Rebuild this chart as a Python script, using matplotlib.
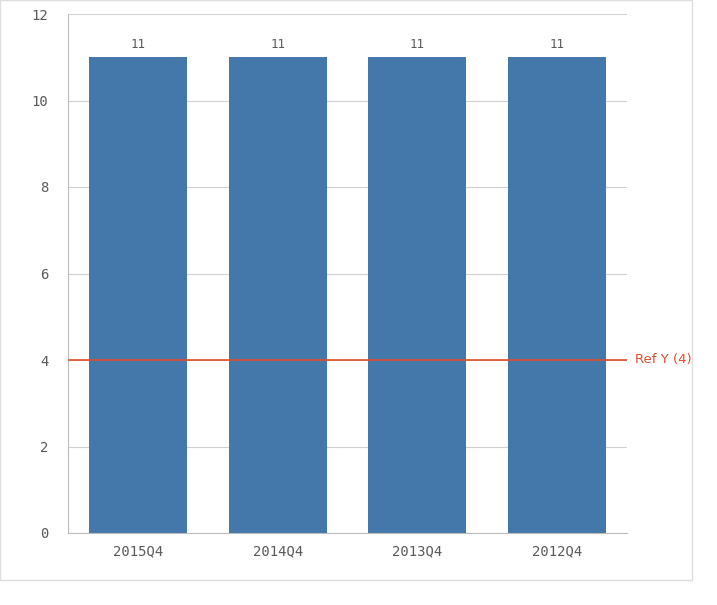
import matplotlib
matplotlib.use("Agg")
import matplotlib.pyplot as plt
from matplotlib.patches import Rectangle

categories = ["2015Q4", "2014Q4", "2013Q4", "2012Q4"]
values = [11, 11, 11, 11]
ref_value = 4
ref_label = "Ref Y (4)"
yticks = [0, 2, 4, 6, 8, 10, 12]

W, H = 717, 605
fig = plt.figure(figsize=(W/100, H/100), dpi=100)
fig.patch.set_facecolor("white")
fig.add_artist(Rectangle((0, 1-580/H), 692/W, 580/H, transform=fig.transFigure,
                         fill=False, edgecolor="#dddddd", lw=1))
ax = fig.add_axes([68/W, 1-533/H, (627-68)/W, (533-14)/H])
x = range(len(categories))
ax.bar(x, values, width=0.7, color="#4477aa", zorder=2)
for xi, v in zip(x, values):
    ax.text(xi, v + 0.15, f"{v}", ha="center", va="bottom", fontsize=9,
            color="#595959", family="DejaVu Sans Mono")
ax.axhline(ref_value, color="#e04e2b", lw=1.2, zorder=3)
ax.text(1.015, ref_value, ref_label, transform=ax.get_yaxis_transform(),
        color="#e04e2b", fontsize=9.5, va="center", ha="left", clip_on=False)
ax.set_xlim(-0.5, 3.5)
ax.set_ylim(0, 12)
ax.set_yticks(yticks)
ax.set_xticks(list(x))
ax.set_xticklabels(categories)
ax.grid(axis="y", color="#d0d0d0", lw=0.8, zorder=0)
for s in ["top", "right"]:
    ax.spines[s].set_visible(False)
for s in ["left", "bottom"]:
    ax.spines[s].set_color("#bbbbbb")
ax.tick_params(axis="both", colors="#595959", labelsize=10, length=0, pad=8)
for lab in ax.get_xticklabels() + ax.get_yticklabels():
    lab.set_family("DejaVu Sans Mono")
    lab.set_color("#595959")
ax.tick_params(axis="y", pad=14)
fig.savefig("out.png", dpi=100)
